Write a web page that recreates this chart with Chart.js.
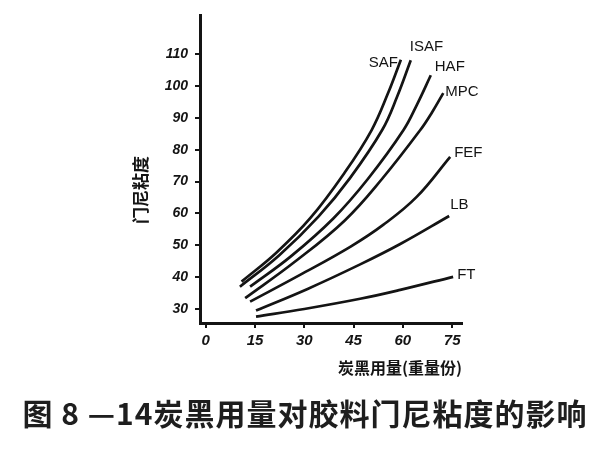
<!DOCTYPE html>
<html>
<head>
<meta charset="utf-8">
<script src="https://cdn.jsdelivr.net/npm/chart.js@4"></script>
<style>
html, body { margin: 0; padding: 0; background: #ffffff; }
#wrap { position: relative; width: 600px; height: 451px; }
#caption {
	position: absolute; left: 0; top: 395px; width: 610px; height: 34px;
	text-align: center; line-height: 34px; letter-spacing: 1px;
	font-family: 'Noto Sans CJK SC', sans-serif; font-weight: bold; font-size: 30px; color: #1e1e1e;
}
</style>
</head>
<body>
<div id="wrap">
	<canvas id="mooney" width="600" height="451"></canvas>
	<div id="caption">图 8 —14炭黑用量对胶料门尼粘度的影响</div>
</div>
<script>
// 炭黑品种
const blackNames = ['SAF', 'ISAF', 'HAF', 'MPC', 'FEF', 'LB', 'FT'];

// 各品种: 用量 (重量份) / 门尼粘度
const safX = [10.9, 21.4, 31.8, 42.4, 50.5, 55.5, 59.4];
const safY = [38.6, 47.6, 58.5, 73.0, 86.2, 97.8, 108.3];
const isafX = [10.4, 22.3, 34.3, 43.9, 53.7, 58.3, 62.4];
const isafY = [37.0, 46.8, 59.0, 71.1, 86.2, 96.8, 108.1];
const hafX = [13.5, 26.0, 38.9, 49.4, 60.2, 64.3, 68.5];
const hafY = [37.0, 46.6, 58.5, 70.9, 86.2, 94.2, 103.4];
const mpcX = [12.0, 27.2, 42.4, 53.7, 65.3, 68.9, 72.3];
const mpcY = [33.4, 44.9, 57.9, 70.9, 86.2, 91.8, 97.8];
const fefX = [13.5, 28.7, 44.1, 54.0, 64.2, 74.4];
const fefY = [32.3, 40.7, 49.6, 56.4, 65.2, 77.8];
const lbX = [15.3, 31.0, 47.0, 59.2, 74.1];
const lbY = [29.5, 36.3, 44.0, 50.4, 59.2];
const ftX = [15.3, 30.0, 47.0, 59.2, 75.3];
const ftY = [27.6, 30.0, 33.2, 36.0, 40.1];

const xTicks = [0, 15, 30, 45, 60, 75];
const yTicks = [30, 40, 50, 60, 70, 80, 90, 100, 110];

const seriesX = [safX, isafX, hafX, mpcX, fefX, lbX, ftX];
const seriesY = [safY, isafY, hafY, mpcY, fefY, lbY, ftY];

document.addEventListener('DOMContentLoaded', function () {
	const ctx = document.getElementById('mooney').getContext('2d');
	const ink = '#141414';

	// label position relative to the curve end: dx, dy, align
	const labelPos = [[-3, 3, 'right'], [-1, -13, 'left'], [4, -8, 'left'], [2, -1, 'left'],
		[4, -4, 'left'], [1, -11, 'left'], [4, -2, 'left']];

	const datasets = blackNames.map(function (name, i) {
		return {
			label: name,
			data: seriesX[i].map(function (x, j) { return { x: x, y: seriesY[i][j] }; }),
			borderColor: ink,
			borderWidth: 2.7,
			pointRadius: 0,
			fill: false,
			tension: 0.4
		};
	});

	new Chart(ctx, {
		type: 'line',
		data: { datasets: datasets },
		options: {
			responsive: false,
			animation: false,
			layout: { padding: { left: 148, right: 138, top: 15, bottom: 66 } },
			plugins: {
				legend: { display: false },
				tooltip: { enabled: false }
			},
			scales: {
				x: {
					type: 'linear',
					min: -1.75,
					max: 78,
					afterBuildTicks: function (scale) {
						scale.ticks = xTicks.map(function (v) { return { value: v }; });
					},
					afterFit: function (scale) { scale.height = 62; },
					border: { display: true, color: ink, width: 3 },
					grid: { drawOnChartArea: false, drawTicks: true, tickLength: 5, color: ink, lineWidth: 2 },
					ticks: {
						color: ink,
						padding: 4,
						font: { family: "'Liberation Sans'", style: 'italic', weight: 'bold', size: 15 }
					},
					title: {
						display: true,
						text: '炭黑用量(重量份)',
						align: 'end',
						color: ink,
						padding: { top: 0, bottom: 7 },
						font: { family: "'Noto Sans CJK SC'", weight: 'bold', size: 16 }
					}
				},
				y: {
					type: 'linear',
					min: 25.6,
					max: 122.2,
					afterBuildTicks: function (scale) {
						scale.ticks = yTicks.map(function (v) { return { value: v }; });
					},
					afterFit: function (scale) { scale.width = 52; },
					border: { display: true, color: ink, width: 3 },
					grid: { drawOnChartArea: false, drawTicks: true, tickLength: 5, color: ink, lineWidth: 2 },
					ticks: {
						color: ink,
						padding: 7,
						font: { family: "'Liberation Sans'", style: 'italic', weight: 'bold', size: 14 }
					}
				}
			}
		},
		plugins: [{
			id: 'curveLabels',
			afterDatasetsDraw: function (chart) {
				const c = chart.ctx;
				c.save();
				c.fillStyle = ink;
				c.textBaseline = 'middle';
				c.font = "15px 'Liberation Sans'";
				chart.data.datasets.forEach(function (ds, i) {
					const pts = chart.getDatasetMeta(i).data;
					const end = pts[pts.length - 1];
					c.textAlign = labelPos[i][2];
					c.fillText(ds.label, end.x + labelPos[i][0], end.y + labelPos[i][1]);
				});

				// y axis title
				c.translate(141, 190);
				c.rotate(-Math.PI / 2);
				c.textAlign = 'center';
				c.font = "bold 17px 'Noto Sans CJK SC'";
				c.fillText('门尼粘度', 0, 0);
				c.restore();
			}
		}]
	});
});
</script>
</body>
</html>
